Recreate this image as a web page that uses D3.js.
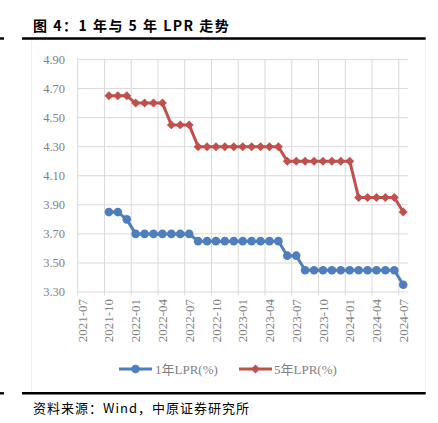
<!DOCTYPE html>
<html><head><meta charset="utf-8">
<script src="https://cdn.jsdelivr.net/npm/d3@7"></script>
<style>
html,body{margin:0;padding:0;background:#fff;}
svg{display:block;}
</style></head>
<body>
<svg id="c" width="438" height="423"></svg>
<script>
// ---- data ----
const categories = ["2021-07","2021-08","2021-09","2021-10","2021-11","2021-12",
"2022-01","2022-02","2022-03","2022-04","2022-05","2022-06","2022-07","2022-08","2022-09","2022-10","2022-11","2022-12",
"2023-01","2023-02","2023-03","2023-04","2023-05","2023-06","2023-07","2023-08","2023-09","2023-10","2023-11","2023-12",
"2024-01","2024-02","2024-03","2024-04","2024-05","2024-06","2024-07"];
const lpr1y = [null,null,null,3.85,3.85,3.80,
3.70,3.70,3.70,3.70,3.70,3.70,3.70,3.65,3.65,3.65,3.65,3.65,
3.65,3.65,3.65,3.65,3.65,3.55,3.55,3.45,3.45,3.45,3.45,3.45,
3.45,3.45,3.45,3.45,3.45,3.45,3.35];
const lpr5y = [null,null,null,4.65,4.65,4.65,
4.60,4.60,4.60,4.60,4.45,4.45,4.45,4.30,4.30,4.30,4.30,4.30,
4.30,4.30,4.30,4.30,4.30,4.20,4.20,4.20,4.20,4.20,4.20,4.20,
4.20,3.95,3.95,3.95,3.95,3.95,3.85];
const yTicks = [3.30,3.50,3.70,3.90,4.10,4.30,4.50,4.70,4.90];
const xTickLabels = ["2021-07","2021-10","2022-01","2022-04","2022-07","2022-10","2023-01","2023-04","2023-07","2023-10","2024-01","2024-04","2024-07"];
const seriesNames = ["1年LPR(%)","5年LPR(%)"];
const titleText = "图 4：1 年与 5 年 LPR 走势";
const sourceText = "资料来源：Wind，中原证券研究所";

// ---- layout ----
const svg = d3.select("#c");
const L = 77.7, R = 407.7, T = 59.5, B = 292;
const x = d3.scaleBand().domain(categories).range([L, R]).padding(0);
const y = d3.scaleLinear().domain([3.30, 4.90]).range([B, T]);
const blue = "#4F7EBE", red = "#C0504D", grid = "#d9d9d9", lab = "#7f7f7f";

// frame
svg.append("rect").attr("x",31.5).attr("y",39).attr("width",394).attr("height",354)
  .attr("fill","none").attr("stroke","#efefef").attr("stroke-width",1);

// title
svg.append("text").attr("x",33).attr("y",31).text(titleText)
  .attr("font-family","'Noto Sans CJK SC', 'Noto Sans', sans-serif").attr("font-weight","bold")
  .attr("font-size",14).attr("letter-spacing",1.5).attr("fill","#000");
svg.append("line").attr("x1",22).attr("x2",425.7).attr("y1",38.5).attr("y2",38.5).attr("stroke","#000").attr("stroke-width",2.4);
svg.append("line").attr("x1",0).attr("x2",4).attr("y1",38.5).attr("y2",38.5).attr("stroke","#000").attr("stroke-width",2.4);

// horizontal grid
svg.append("g").selectAll("line").data(yTicks).join("line")
  .attr("x1",L).attr("x2",R).attr("y1",d=>y(d)).attr("y2",d=>y(d))
  .attr("stroke",grid).attr("stroke-width",1);
// vertical grid at tick positions
svg.append("g").selectAll("line").data(xTickLabels).join("line")
  .attr("x1",d=>x(d)).attr("x2",d=>x(d)).attr("y1",T).attr("y2",B+3.5)
  .attr("stroke",grid).attr("stroke-width",1);

// y labels
svg.append("g").selectAll("text").data(yTicks).join("text")
  .attr("x",65).attr("y",d=>y(d)).attr("dy","0.35em").attr("text-anchor","end")
  .attr("font-family","'Liberation Serif', serif").attr("font-size",12.5).attr("fill",lab)
  .text(d=>d3.format(".2f")(d));

// x labels
svg.append("g").selectAll("text").data(xTickLabels).join("text")
  .attr("transform",d=>`translate(${x(d)+x.bandwidth()/2},299) rotate(-90)`)
  .attr("text-anchor","end").attr("dy","0.35em")
  .attr("font-family","'Liberation Serif', serif").attr("font-size",13).attr("fill",lab)
  .text(d=>d);

// series
function drawSeries(vals, color, marker){
  const pts = categories.map((c,i)=>({c, v: vals[i]})).filter(d=>d.v!=null);
  const line = d3.line().x(d=>x(d.c)+x.bandwidth()/2).y(d=>y(d.v));
  svg.append("path").datum(pts).attr("d",line).attr("fill","none")
    .attr("stroke",color).attr("stroke-width",3).attr("stroke-linejoin","round");
  const g = svg.append("g");
  if(marker==="circle"){
    g.selectAll("circle").data(pts).join("circle")
      .attr("cx",d=>x(d.c)+x.bandwidth()/2).attr("cy",d=>y(d.v)).attr("r",4.3).attr("fill",color);
  } else {
    const sym = d3.symbol().type(d3.symbolSquare).size(40);
    g.selectAll("path").data(pts).join("path").attr("d",sym)
      .attr("transform",d=>`translate(${x(d.c)+x.bandwidth()/2},${y(d.v)}) rotate(45)`).attr("fill",color);
  }
}
drawSeries(lpr5y, red, "diamond");
drawSeries(lpr1y, blue, "circle");

// legend
const ly = 369;
const lg = svg.append("g");
lg.append("line").attr("x1",119).attr("x2",152).attr("y1",ly).attr("y2",ly).attr("stroke",blue).attr("stroke-width",3);
lg.append("circle").attr("cx",135.5).attr("cy",ly).attr("r",4.3).attr("fill",blue);
lg.append("text").attr("x",155).attr("y",ly).attr("dy","0.35em").text(seriesNames[0])
  .attr("font-family","'Liberation Serif', 'Noto Sans CJK SC', serif").attr("font-size",13).attr("fill",lab);
lg.append("line").attr("x1",239).attr("x2",272).attr("y1",ly).attr("y2",ly).attr("stroke",red).attr("stroke-width",3);
lg.append("path").attr("d",d3.symbol().type(d3.symbolSquare).size(40)).attr("transform",`translate(255.5,${ly}) rotate(45)`).attr("fill",red);
lg.append("text").attr("x",274).attr("y",ly).attr("dy","0.35em").text(seriesNames[1])
  .attr("font-family","'Liberation Serif', 'Noto Sans CJK SC', serif").attr("font-size",13).attr("fill",lab);

// bottom rule & source
svg.append("line").attr("x1",22).attr("x2",425.7).attr("y1",393.3).attr("y2",393.3).attr("stroke","#000").attr("stroke-width",2.4);
svg.append("line").attr("x1",0).attr("x2",4).attr("y1",393.3).attr("y2",393.3).attr("stroke","#000").attr("stroke-width",2.4);
svg.append("text").attr("x",33).attr("y",413).text(sourceText)
  .attr("font-family","'Noto Sans CJK SC', sans-serif").attr("font-size",13).attr("letter-spacing",1).attr("fill","#000");
</script>
</body></html>
